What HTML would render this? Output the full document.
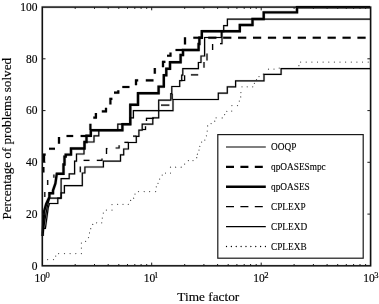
<!DOCTYPE html>
<html><head><meta charset="utf-8"><title>Performance profile</title>
<style>html,body{margin:0;padding:0;background:#fff}body{width:379px;height:304px;overflow:hidden;position:relative}svg text{font-family:"Liberation Serif",serif;fill:#000;stroke:#000;stroke-width:0.15px}</style>
</head><body>
<svg width="379" height="304" viewBox="0 0 379 304" style="position:absolute;left:0;top:0">
<rect width="379" height="304" fill="#fff"/>
<g fill="none" stroke="#000" stroke-opacity="0.14" stroke-linejoin="round">
<path d="M42.8,233 L43.2,228.4 H45.4 L48.3,207.5 L49.5,203.5 H57.8 V198.2 H61.1 V192.9 H64.4 V185.7 H82.3 V173 H84.9 V167 H103.4 V161.1 H120.5 V154.8 H123.7 V149 H128.4 V142.5 H136.3 V136.3 H138.9 V130.2 H142.2 V124.2 H152.8 V117.8 H158.7 V110.7 H173 V99.5 H218.3 V93.2 H227.3 V86.8 H235.6 V80.9 H264 V74.4 H281.1 V68.6 H370" stroke-width="2.4"/>
<path d="M42.8,233 L43.6,228.2 L46.9,208.3 L49.5,198.2 H61.1 V178.6 H69.2 V173.9 H74.6 V161.2 H76.5 V154 H84 V148.5 H84.5 V142 H94 V135.8 H98.8 V130.3 H117.8 V124.2 H130.2 V117.8 H133.4 V110.7 H158.7 V100.2 H170.8 V93.7 H171.8 V86.5 H179.7 V80.6 H181.7 V75.2 H182.8 V68.7 H198.4 V62.5 H201 V56 H204.6 V37.5 H221.3 V31.6 H223.7 V25.6 H227.4 V19.2 H370" stroke-width="2.4"/>
<path d="M43,213.4 V210.7 M44.8,197 V192 M47.7,185 V180 M53.9,177.7 V174.4 M80.3,172.3 V166.4 M83.6,160.4 H89.5 M96.8,160.4 H102 V158.5 M106.5,154 V148.7 H107.5 M115.6,148 H119.1 V145.3 M124.4,142.4 H128.4 M133,136.2 H136.3 M142.2,129.5 H145.5 V126.2 M146.5,121 V118.3 H154 M161,105.2 H169.4 M172.2,99.6 V93.7 M181.7,80.5 H184.6 V75.2 M190.9,74.8 H198.2 M204,67.7 V62 M207,60.6 V53.6 M212.6,50 V44 M220,43.6 H222 V32" stroke-width="2.4"/>
<path d="M42.6,236 L43.2,225 L44.2,211 L46.2,204 L49.4,197 V193.3 H53 V190.5 L55.4,183.5 L56.8,173.7 H63.5 V164.5 H64.5 V156.6 H65.7 V154.6 H71 V148.5 H84.5 V142 H86.5 V135.8 H90.8 V130.2 H122.4 V124.2 H130.3 V104.7 H138 V93.2 H158.6 V86.6 H163.8 V75.3 H166.3 V68.7 H170 V62.2 H180.6 V55 H183 V50 H198.6 V44 H199.4 V37.8 H201.8 V31.3 H239.8 V25 H252.5 V19 H263.7 V12.4 H297 V7.3 H370" stroke-width="3.6"/>
<path d="M44,162 V154 M43,154.6 H45.7 M43,161 H45 M43.4,172.5 V167 M49,148.7 H55 M59,143.7 V137 M66.5,136 H73.2 M80.6,136 H87.5 M90.4,129.7 V123.8 M93.3,117.6 H95.9 V113 M101.8,111.3 H106 V107.7 M110.4,104.4 V98.9 H112.4 M114,92.6 H118.3 V90.2 M122.3,87 H129.5 M136,85.3 V80.4 H138.2 M145.8,80.4 H153.5 M154.8,73.8 V68 M163,67.2 V61.9 H165.4 M167,55.7 H170.5 V52.5 M175.5,50 H182.5 M185,44.4 V37.2" stroke-width="3.3"/>
<path d="M193.3,37.7 H370" stroke-width="3.3" stroke-dasharray="8.2 6.72"/>
<rect x="42.3" y="7.1" width="328.3" height="258.7" stroke-width="2.6"/>
</g>
<g fill="none" stroke="#000" stroke-linejoin="miter">
<path d="M47.6,259.6h0.01 M53.5,259.6h0.01 M55.7,256.0h0.01 M58.6,253.5h0.01 M64.5,253.5h0.01 M70.1,253.5h0.01 M75.8,253.5h0.01 M81.4,253.5h0.01 M81.4,248.0h0.01 M81.4,243.0h0.01 M85.6,241.3h0.01 M88.5,237.5h0.01 M89.5,232.9h0.01 M90.7,228.7h0.01 M92.7,224.4h0.01 M96.6,222.8h0.01 M101.7,222.8h0.01 M102.3,218.0h0.01 M103.3,213.0h0.01 M106.4,210.0h0.01 M112.0,210.0h0.01 M112.0,204.5h0.01 M117.6,204.3h0.01 M123.0,204.3h0.01 M128.3,204.3h0.01 M130.6,200.4h0.01 M133.6,198.2h0.01 M135.0,194.0h0.01 M138.5,191.6h0.01 M144.2,191.6h0.01 M149.6,191.6h0.01 M155.6,191.6h0.01 M156.3,186.8h0.01 M158.0,183.3h0.01 M159.6,179.0h0.01 M162.2,175.0h0.01 M165.5,173.0h0.01 M170.5,173.0h0.01 M170.5,167.2h0.01 M175.6,167.2h0.01 M181.2,167.2h0.01 M184.6,164.0h0.01 M188.4,160.6h0.01 M193.0,160.6h0.01 M196.7,157.7h0.01 M197.4,154.2h0.01 M199.0,150.0h0.01 M199.8,146.3h0.01 M201.6,142.0h0.01 M204.8,140.1h0.01 M206.4,135.8h0.01 M207.2,131.1h0.01 M207.6,125.9h0.01 M211.1,123.5h0.01 M214.7,121.2h0.01 M216.1,117.8h0.01 M222.2,117.9h0.01 M224.6,114.6h0.01 M226.8,111.3h0.01 M231.7,111.0h0.01 M231.9,105.6h0.01 M237.5,105.6h0.01 M239.3,101.0h0.01 M240.7,96.9h0.01 M240.9,92.6h0.01 M242.0,86.8h0.01 M247.2,86.8h0.01 M252.7,86.8h0.01 M254.4,83.3h0.01 M256.5,79.5h0.01 M259.0,76.6h0.01 M263.3,74.0h0.01 M268.5,69.2h0.01 M274.0,69.0h0.01 M279.2,68.0h0.01 M298.9,65.7h0.01 M300.6,62.1h0.01 M306.2,62.1h0.01 M311.9,62.1h0.01 M317.5,62.1h0.01 M323.1,62.1h0.01 M328.8,62.1h0.01 M334.4,62.1h0.01 M340.0,62.1h0.01 M345.6,62.1h0.01 M351.3,62.1h0.01 M356.9,62.1h0.01 M362.5,62.1h0.01 M368.2,62.1h0.01" stroke-width="1.25" stroke="#444" stroke-linecap="round"/>
<path d="M42.8,233 L43.2,228.4 H45.4 L48.3,207.5 L49.5,203.5 H57.8 V198.2 H61.1 V192.9 H64.4 V185.7 H82.3 V173 H84.9 V167 H103.4 V161.1 H120.5 V154.8 H123.7 V149 H128.4 V142.5 H136.3 V136.3 H138.9 V130.2 H142.2 V124.2 H152.8 V117.8 H158.7 V110.7 H173 V99.5 H218.3 V93.2 H227.3 V86.8 H235.6 V80.9 H264 V74.4 H281.1 V68.6 H370" stroke-width="1.2"/>
<path d="M42.8,233 L43.6,228.2 L46.9,208.3 L49.5,198.2 H61.1 V178.6 H69.2 V173.9 H74.6 V161.2 H76.5 V154 H84 V148.5 H84.5 V142 H94 V135.8 H98.8 V130.3 H117.8 V124.2 H130.2 V117.8 H133.4 V110.7 H158.7 V100.2 H170.8 V93.7 H171.8 V86.5 H179.7 V80.6 H181.7 V75.2 H182.8 V68.7 H198.4 V62.5 H201 V56 H204.6 V37.5 H221.3 V31.6 H223.7 V25.6 H227.4 V19.2 H370" stroke-width="1.2"/>
<path d="M43,213.4 V210.7 M44.8,197 V192 M47.7,185 V180 M53.9,177.7 V174.4 M80.3,172.3 V166.4 M83.6,160.4 H89.5 M96.8,160.4 H102 V158.5 M106.5,154 V148.7 H107.5 M115.6,148 H119.1 V145.3 M124.4,142.4 H128.4 M133,136.2 H136.3 M142.2,129.5 H145.5 V126.2 M146.5,121 V118.3 H154 M161,105.2 H169.4 M172.2,99.6 V93.7 M181.7,80.5 H184.6 V75.2 M190.9,74.8 H198.2 M204,67.7 V62 M207,60.6 V53.6 M212.6,50 V44 M220,43.6 H222 V32" stroke-width="1.2"/>
<path d="M42.6,236 L43.2,225 L44.2,211 L46.2,204 L49.4,197 V193.3 H53 V190.5 L55.4,183.5 L56.8,173.7 H63.5 V164.5 H64.5 V156.6 H65.7 V154.6 H71 V148.5 H84.5 V142 H86.5 V135.8 H90.8 V130.2 H122.4 V124.2 H130.3 V104.7 H138 V93.2 H158.6 V86.6 H163.8 V75.3 H166.3 V68.7 H170 V62.2 H180.6 V55 H183 V50 H198.6 V44 H199.4 V37.8 H201.8 V31.3 H239.8 V25 H252.5 V19 H263.7 V12.4 H297 V7.3 H370" stroke-width="2.4"/>
<path d="M44,162 V154 M43,154.6 H45.7 M43,161 H45 M43.4,172.5 V167 M49,148.7 H55 M59,143.7 V137 M66.5,136 H73.2 M80.6,136 H87.5 M90.4,129.7 V123.8 M93.3,117.6 H95.9 V113 M101.8,111.3 H106 V107.7 M110.4,104.4 V98.9 H112.4 M114,92.6 H118.3 V90.2 M122.3,87 H129.5 M136,85.3 V80.4 H138.2 M145.8,80.4 H153.5 M154.8,73.8 V68 M163,67.2 V61.9 H165.4 M167,55.7 H170.5 V52.5 M175.5,50 H182.5 M185,44.4 V37.2" stroke-width="2.15"/>
<path d="M193.3,37.7 H370" stroke-width="2.15" stroke-dasharray="8.2 6.72"/>
</g>
<rect x="42.3" y="7.1" width="328.3" height="258.7" fill="none" stroke="#111" stroke-width="1.45"/>
<path d="M75.2,265.8 v-1.8 M75.2,7.1 v1.8 M94.5,265.8 v-1.8 M94.5,7.1 v1.8 M108.2,265.8 v-1.8 M108.2,7.1 v1.8 M118.8,265.8 v-1.8 M118.8,7.1 v1.8 M127.5,265.8 v-1.8 M127.5,7.1 v1.8 M134.8,265.8 v-1.8 M134.8,7.1 v1.8 M141.1,265.8 v-1.8 M141.1,7.1 v1.8 M146.7,265.8 v-1.8 M146.7,7.1 v1.8 M151.7,265.8 v-3.2 M151.7,7.1 v3.2 M184.7,265.8 v-1.8 M184.7,7.1 v1.8 M203.9,265.8 v-1.8 M203.9,7.1 v1.8 M217.6,265.8 v-1.8 M217.6,7.1 v1.8 M228.2,265.8 v-1.8 M228.2,7.1 v1.8 M236.9,265.8 v-1.8 M236.9,7.1 v1.8 M244.2,265.8 v-1.8 M244.2,7.1 v1.8 M250.6,265.8 v-1.8 M250.6,7.1 v1.8 M256.2,265.8 v-1.8 M256.2,7.1 v1.8 M261.2,265.8 v-3.2 M261.2,7.1 v3.2 M294.1,265.8 v-1.8 M294.1,7.1 v1.8 M313.4,265.8 v-1.8 M313.4,7.1 v1.8 M327.1,265.8 v-1.8 M327.1,7.1 v1.8 M337.7,265.8 v-1.8 M337.7,7.1 v1.8 M346.3,265.8 v-1.8 M346.3,7.1 v1.8 M353.6,265.8 v-1.8 M353.6,7.1 v1.8 M360.0,265.8 v-1.8 M360.0,7.1 v1.8 M365.6,265.8 v-1.8 M365.6,7.1 v1.8 M42.3,214.1 h3.2 M370.6,214.1 h-3.2 M42.3,162.3 h3.2 M370.6,162.3 h-3.2 M42.3,110.6 h3.2 M370.6,110.6 h-3.2 M42.3,58.8 h3.2 M370.6,58.8 h-3.2" fill="none" stroke="#1a1a1a" stroke-width="1"/>
<rect x="217.8" y="134.6" width="145.4" height="123.6" fill="#fff" stroke="#1a1a1a" stroke-width="1.2"/>
<path d="M226.0,147.0 H265.8" fill="none" stroke="#000" stroke-width="1.2"/>
<text x="271" y="149.6" font-size="9.3" style="stroke-width:0.1px">OOQP</text>
<path d="M226.0,166.9 H265.8" fill="none" stroke="#000" stroke-width="2.15" stroke-dasharray="8 6.4"/>
<text x="271" y="169.6" font-size="9.3" style="stroke-width:0.1px">qpOASESmpc</text>
<path d="M226.0,186.8 H265.8" fill="none" stroke="#000" stroke-width="2.4"/>
<text x="271" y="189.6" font-size="9.3" style="stroke-width:0.1px">qpOASES</text>
<path d="M226.0,206.7 H265.8" fill="none" stroke="#000" stroke-width="1.2" stroke-dasharray="8 6.4"/>
<text x="271" y="209.6" font-size="9.3" style="stroke-width:0.1px">CPLEXP</text>
<path d="M226.0,226.6 H265.8" fill="none" stroke="#000" stroke-width="1.2"/>
<text x="271" y="229.6" font-size="9.3" style="stroke-width:0.1px">CPLEXD</text>
<path d="M226.5,246.5 H265.8" fill="none" stroke="#000" stroke-width="1.3" stroke-linecap="round" stroke-dasharray="0.01 4.86"/>
<text x="271" y="249.6" font-size="9.3" style="stroke-width:0.1px">CPLEXB</text>
<text x="37.4" y="269.5" font-size="11.5" text-anchor="end">0</text>
<text x="37.4" y="217.8" font-size="11.5" text-anchor="end">20</text>
<text x="37.4" y="166.0" font-size="11.5" text-anchor="end">40</text>
<text x="37.4" y="114.3" font-size="11.5" text-anchor="end">60</text>
<text x="37.4" y="62.5" font-size="11.5" text-anchor="end">80</text>
<text x="37.4" y="10.8" font-size="11.5" text-anchor="end">100</text>
<text x="34.4" y="282.4" font-size="11.5" text-anchor="start">10<tspan font-size="8.6" dy="-4" dx="-0.5">0</tspan></text>
<text x="143.8" y="282.4" font-size="11.5" text-anchor="start">10<tspan font-size="8.6" dy="-4" dx="-1.2">1</tspan></text>
<text x="253.3" y="282.4" font-size="11.5" text-anchor="start">10<tspan font-size="8.6" dy="-4" dx="-0.5">2</tspan></text>
<text x="363.3" y="282.4" font-size="11.5" text-anchor="start">10<tspan font-size="8.6" dy="-4" dx="-0.5">3</tspan></text>
<text x="177.3" y="300.9" font-size="13.3">Time factor</text>
<text transform="translate(10.8,219.6) rotate(-90)" font-size="13.15">Percentage of problems solved</text>
</svg>
</body></html>
